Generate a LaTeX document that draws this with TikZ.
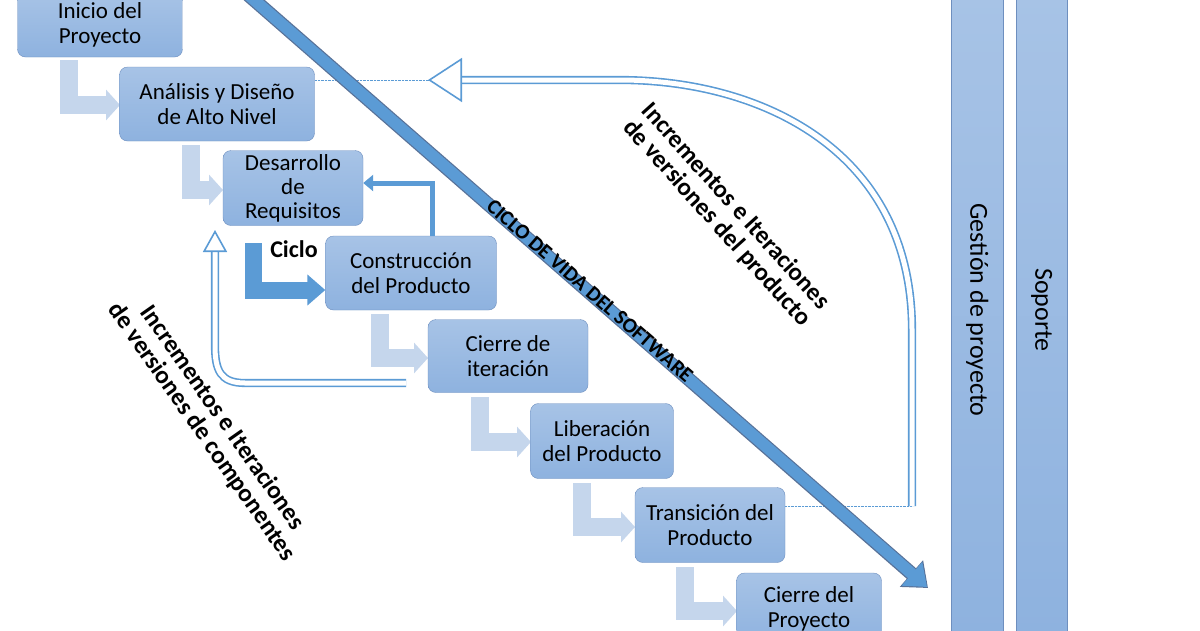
\documentclass[tikz,border=0pt]{standalone}
\usepackage{fontspec}
\setmainfont{Carlito}
\usetikzlibrary{arrows.meta}
\definecolor{bfill}{HTML}{A7C3E6}
\definecolor{bfill2}{HTML}{8EB2DF}
\definecolor{bdraw}{HTML}{6E8FBF}
\definecolor{light}{HTML}{C5D6EC}
\definecolor{mid}{HTML}{5B9BD5}
\begin{document}
\begin{tikzpicture}[x=1pt,y=-1pt,
 box/.style={draw=bdraw,rounded corners=8pt,top color=bfill,bottom color=bfill2,align=center,font=\fontsize{23}{25}\selectfont,inner sep=0pt},
 stepar/.style={draw=light,line width=18pt,-{Triangle[length=14pt,width=30pt]}},
 hollow/.style={draw=mid,double=white,double distance=5pt,line width=1.6pt,-{Triangle[open,fill=white,length=34pt,width=44pt]}},
 lbl/.style={font=\bfseries\fontsize{25}{25}\selectfont,align=center}]
\useasboundingbox (0,0) rectangle (1200,630);
\fill[white] (0,0) rectangle (1200,630);
% vertical bars
\node[box,rounded corners=0pt,minimum width=52pt,minimum height=640pt,anchor=north west] (gp) at (951,-5) {};
\node[box,rounded corners=0pt,minimum width=51pt,minimum height=640pt,anchor=north west] (sp) at (1016,-5) {};
\node[rotate=-90,font=\fontsize{26}{28}\selectfont] at (gp.center|-0,310) {Gestión de proyecto};
\node[rotate=-90,font=\fontsize{26}{28}\selectfont] at (sp.center|-0,310) {Soporte};
% dotted lines
\draw[densely dotted,mid] (315,80) -- (430,80);
\draw[densely dotted,mid] (785,506) -- (912,506);
% step arrows
\draw[stepar] (69,60) -- (69,105) -- (120,105);
\draw[stepar] (191,145) -- (191,190) -- (223,190);
\draw[stepar] (380,314) -- (380,358) -- (428,358);
\draw[stepar] (480,397) -- (480,442) -- (531,442);
\draw[stepar] (582,483) -- (582,527) -- (635,527);
\draw[stepar] (685,567) -- (685,611) -- (737,611);
% boxes
\node[box,minimum width=165pt,minimum height=64pt] (b1) at (100,25) {Inicio del\\Proyecto};
\node[box,minimum width=195pt,minimum height=74pt] (b2) at (217,104) {Análisis y Diseño\\de Alto Nivel};
\node[box,minimum width=140pt,minimum height=75pt,font=\fontsize{23}{24}\selectfont] (b3) at (293,188) {Desarrollo\\de\\Requisitos};
\node[box,minimum width=171pt,minimum height=74pt] (b4) at (411,273) {Construcción\\del Producto};
\node[box,minimum width=160pt,minimum height=73pt] (b5) at (508,356) {Cierre de\\iteración};
\node[box,minimum width=143pt,minimum height=75pt] (b6) at (602,441) {Liberación\\del Producto};
\node[box,minimum width=150pt,minimum height=75pt] (b7) at (710,525) {Transición del\\Producto};
\node[box,minimum width=145pt,minimum height=72pt] (b8) at (809,609) {Cierre del\\Proyecto};
% main diagonal
\coordinate (d1) at (245,-8);
\coordinate (d2) at (928,588);
\draw[draw=bdraw!80!black,line width=14pt,-{Triangle[length=22pt,width=34pt]}] (d1) -- (d2);
\draw[draw=mid,line width=11.5pt,-{Triangle[length=20pt,width=30pt]}] (d1) -- ([shift={(-1,-1)}]d2);
\node[font=\bfseries\fontsize{21}{22}\selectfont,rotate=-41.1] at (590,291) {CICLO DE VIDA DEL SOFTWARE};
% product loop
\coordinate (p0) at (912,506);
\coordinate (p1) at (428,80);
\draw[hollow] (p0) -- (912,330) .. controls (912,150) and (760,80) .. (620,80) -- (p1);
\node[lbl,rotate=-48] at (726,215) {Incrementos e Iteraciones\\de versiones del producto};
% component loop
\coordinate (c0) at (406,383);
\coordinate (c1) at (215,230);
\draw[draw=mid,double=white,double distance=5pt,line width=1.6pt,-{Triangle[open,fill=white,length=22pt,width=24pt]}] (c0) -- (245,383) .. controls (220,383) and (215,370) .. (215,345) -- (c1);
\node[lbl,rotate=-55] at (212,425) {Incrementos e Iteraciones\\de versiones de componentes};
% ciclo arrows
\draw[draw=mid,line width=5pt,-{Triangle[length=10pt,width=16pt]}] (b4.north-|432,0) -- (432,183) -- (b3.east|-0,183);
\draw[draw=mid,line width=17pt,-{Triangle[length=18pt,width=30pt]}] (253,243) -- (253,290) -- (b4.west|-0,290);
\node[font=\bfseries\fontsize{24}{25}\selectfont] at (294,249) {Ciclo};
\end{tikzpicture}
\end{document}
